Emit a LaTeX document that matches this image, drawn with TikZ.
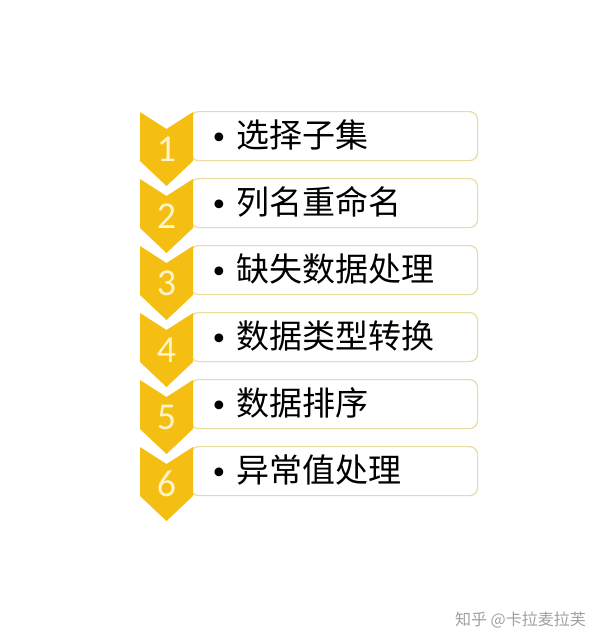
\documentclass[tikz,border=0pt]{standalone}
\usepackage{fontspec}
\newfontfamily\cjk{Noto Sans CJK SC}
\newfontfamily\numfont{Carlito}
\newfontfamily\symfont{DejaVu Sans}
\definecolor{gold}{RGB}{245,190,18}
\definecolor{boxline}{RGB}{232,220,160}
\definecolor{numcol}{RGB}{255,244,200}
\definecolor{wm}{RGB}{160,160,160}
\begin{document}
\begin{tikzpicture}[x=1pt,y=-1pt,
  itembox/.style={draw=boxline,line width=1.2pt,fill=white,rounded corners=8pt,
    minimum width=287pt,minimum height=49pt,anchor=north west,inner sep=0pt},
  itemtext/.style={anchor=west,inner sep=0pt,font=\cjk\fontsize{33}{33}\selectfont,text=black},
  bullet/.style={inner sep=0pt,font=\symfont\fontsize{30}{30}\selectfont,text=black},
  numtext/.style={inner sep=0pt,font=\numfont\fontsize{38}{38}\selectfont,text=numcol},
  chev/.style={fill=gold,draw=none}]
\useasboundingbox (0,0) rectangle (600,642);
\foreach \i/\t in {0/选择子集,1/列名重命名,2/缺失数据处理,3/数据类型转换,4/数据排序,5/异常值处理}{
  \pgfmathsetmacro{\yy}{112+67*\i}
  \node[itembox] (box\i) at (190,\yy-1) {};
  \node[bullet] (blt\i) at (219,\yy+29) {•};
  \node[itemtext] (txt\i) at (236,\yy+23) {\t};
  \fill[chev] (140,\yy) -- (166.5,\yy+17) -- (193,\yy) -- (193,\yy+49) -- (166.5,\yy+74) -- (140,\yy+49) -- cycle;
  \pgfmathtruncatemacro{\n}{\i+1}
  \node[numtext] (num\i) at (166.5,\yy+37) {\n};
}
\node[anchor=east,inner sep=0pt,text=wm,font=\cjk\fontsize{16}{16}\selectfont] (mark) at (586,620) {知乎 @卡拉麦拉芙};
\end{tikzpicture}
\end{document}
